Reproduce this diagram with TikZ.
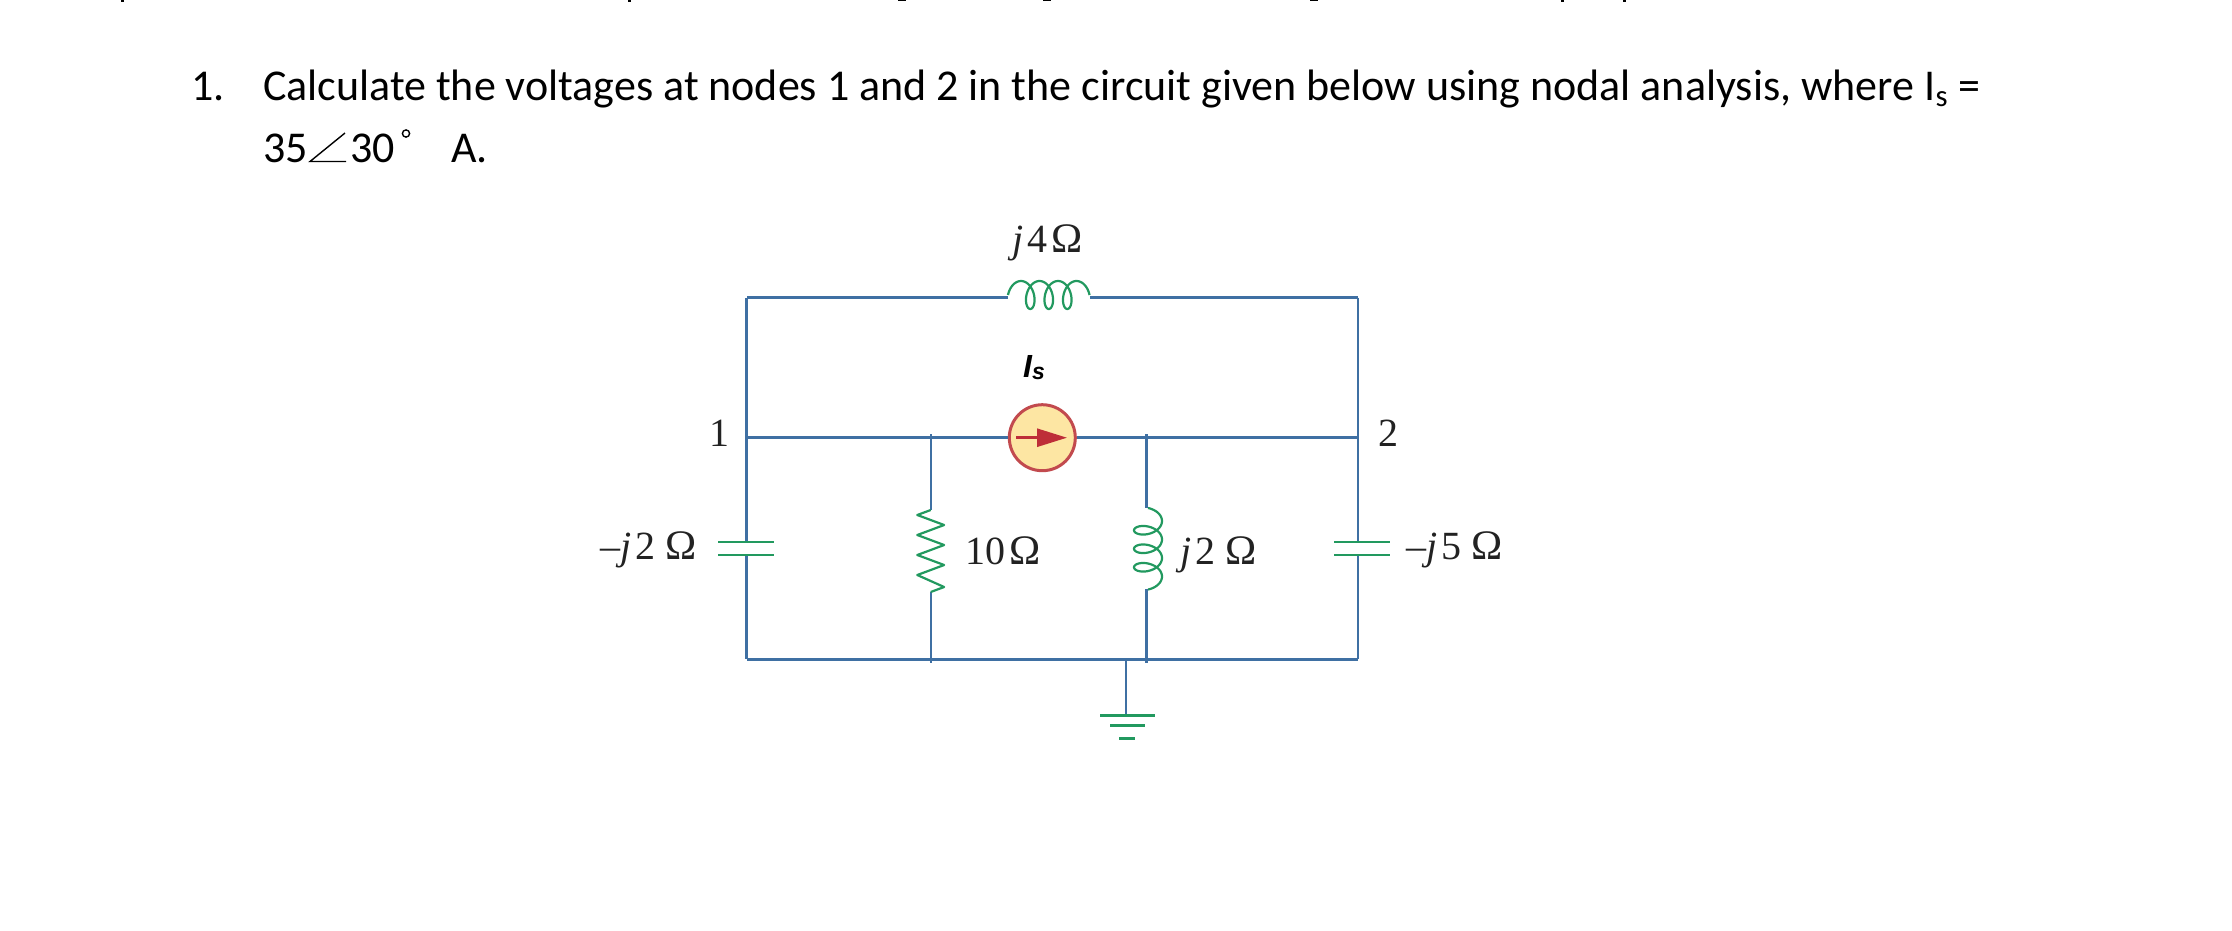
\documentclass[tikz,border=0pt]{standalone}
\usepackage{fontspec}
\setmainfont{Liberation Serif}
\newfontfamily\headfont{Carlito}
\newfontfamily\sansfont{Liberation Sans}
\usetikzlibrary{arrows.meta}
\definecolor{wire}{HTML}{3F70A3}
\definecolor{part}{HTML}{22995F}
\definecolor{srcfill}{HTML}{FDE6A3}
\definecolor{srcedge}{HTML}{C24A4E}
\definecolor{srcarrow}{HTML}{BE2E38}
\definecolor{labelc}{HTML}{222222}
\newcommand{\jkern}{\textit{j}\kern0.1em}
\newcommand{\omg}{\kern0.25em{\fontsize{42}{42}\selectfont Ω}}
\newcommand{\omgtight}{\kern0.1em{\fontsize{42}{42}\selectfont Ω}}
\tikzset{
  thinwire/.style={draw=wire,line width=2.4pt},
  thickwire/.style={draw=wire,line width=2.8pt},
  comp/.style={draw=part,line width=2.2pt,line join=round},
  plate/.style={draw=part,line width=2.8pt},
  lab/.style={inner sep=0pt,outer sep=0pt,font=\fontsize{40}{40}\selectfont,text=labelc},
  head/.style={inner sep=0pt,outer sep=0pt,anchor=base west,font=\headfont\fontsize{44}{44}\selectfont},
  cutoff/.style={fill=black,draw=none}
}
\begin{document}
\begin{tikzpicture}[x=1pt,y=-1pt]
\useasboundingbox (0,0) rectangle (2232,930);
% cut-off descenders of the line above
\fill[cutoff] (121,0) rectangle (123.5,1.6);
\fill[cutoff] (628,0) rectangle (630.5,1.6);
\fill[cutoff] (898,0) rectangle (906,1);
\fill[cutoff] (1043,0) rectangle (1051,1);
\fill[cutoff] (1310,0) rectangle (1318,1);
\fill[cutoff] (1561,0) rectangle (1563.5,1.6);
\fill[cutoff] (1623,0) rectangle (1625.5,1.6);
% question text
\node[head] (num) at (191,100) {1.};
\node[head] (q1) at (263,100) {Calculate the voltages at nodes 1 and 2 in the circuit given below using nodal analysis, where I\textsubscript{s} =};
\node[head] (q2) at (263,162) {35};
\node[head] (q3) at (350,162) {30};
\node[head] (q4) at (451,162) {A.};
\draw[line width=1.4pt] (406,133.5) circle (3.6);
\coordinate (angt) at (345,133);
\coordinate (anga) at (310,161.5);
\coordinate (angb) at (346,161.5);
\draw[line width=1.4pt] (angt) -- (anga) -- (angb);
% junctions
\coordinate (tl) at (746.5,297.7);
\coordinate (tr) at (1358,297.7);
\coordinate (ml) at (746.5,437.7);
\coordinate (mr) at (1358,437.7);
\coordinate (bl) at (746.5,659.3);
\coordinate (br) at (1358,659.3);
\coordinate (lt) at (1008,297.7);
\coordinate (lb) at (1089.5,297.7);
\coordinate (rt) at (930.7,510);
\coordinate (rb) at (930.7,592);
\coordinate (rw) at (930.7,434);
\coordinate (rg) at (930.7,663);
\coordinate (it) at (1146.3,508);
\coordinate (ib) at (1146.3,589);
\coordinate (iw) at (1146.3,434);
\coordinate (ig) at (1146.3,663);
\coordinate (c1t) at (746.5,542);
\coordinate (c1b) at (746.5,555);
\coordinate (c2t) at (1358,542);
\coordinate (c2b) at (1358,555);
\coordinate (gt) at (1126,659.3);
\coordinate (gb) at (1126,715);
% source
\node[circle,draw=srcedge,fill=srcfill,line width=3pt,minimum size=66pt,inner sep=0pt] (src) at (1042.3,437.7) {};
% wires
\draw[thickwire] (lt) -- (tl);
\draw[thickwire] (lb) -- (tr);
\draw[thickwire] (ml) -- (src.west);
\draw[thickwire] (src.east) -- (mr);
\draw[thickwire] (bl) -- (br);
\draw[thinwire] (tl) -- (c1t);
\draw[thinwire] (c1b) -- (bl);
\draw[thinwire] (tr) -- (c2t);
\draw[thinwire] (c2b) -- (br);
\draw[thinwire] (rw) -- (rt);
\draw[thinwire] (rb) -- (rg);
\draw[thinwire] (iw) -- (it);
\draw[thinwire] (ib) -- (ig);
\draw[thinwire] (gt) -- (gb);
% source arrow
\coordinate (as) at (1016,437.7);
\coordinate (ae) at (1067,437.7);
\draw[draw=srcarrow,fill=srcarrow,line width=2.6pt,-{Triangle[length=30pt,width=18pt]}] (as) -- (ae);
% capacitors
\draw[plate] (718,542) -- (774,542);
\draw[plate] (718,555) -- (774,555);
\draw[plate] (1334,542) -- (1390,542);
\draw[plate] (1334,555) -- (1390,555);
% resistor
\draw[comp] (rt) -- (917.3,515) -- (944.1,525) -- (917.3,535) -- (944.1,545) -- (917.3,555) -- (944.1,565) -- (917.3,575) -- (944.1,587) -- (rb);
% horizontal inductor
\draw[comp] plot[domain=-1.5708:20.42,samples=160,smooth,variable=\t] ({1021+2.945*\t+8.4*sin(\t r)},{295-14*cos(\t r)});
% vertical inductor
\draw[comp] plot[domain=-1.5708:20.42,samples=160,smooth,variable=\t] ({1148+14*cos(\t r)},{521+2.945*\t+8.4*sin(\t r)});
% ground
\draw[plate] (1100,715.3) -- (1155,715.3);
\draw[plate] (1110,725.7) -- (1145,725.7);
\draw[plate] (1119,738.3) -- (1135,738.3);
% labels
\node[lab,anchor=base] (lj4) at (1047.5,252.7) {\jkern 4\omgtight};
\node[anchor=base,inner sep=0pt,font=\sansfont\bfseries\itshape\fontsize{32}{32}\selectfont] (lis) at (1034,377) {I\raisebox{-2pt}{\fontsize{23}{23}\selectfont s}};
\node[lab,anchor=base] (ln1) at (719,446.7) {1};
\node[lab,anchor=base] (ln2) at (1388.6,446.7) {2};
\node[lab,anchor=base east] (lc1) at (697,559) {–\jkern 2\omg};
\node[lab,anchor=base west] (lr) at (965,564) {10\omgtight};
\node[lab,anchor=base west] (li) at (1180,564) {\jkern 2\omg};
\node[lab,anchor=base west] (lc2) at (1406.5,559) {–\jkern 5\omg};
\end{tikzpicture}
\end{document}
